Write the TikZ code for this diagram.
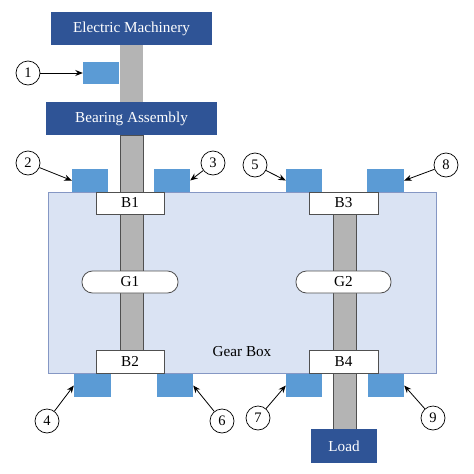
\documentclass[tikz,border=0pt]{standalone}
\usepackage{fontspec}
\setmainfont{Liberation Serif}
\usetikzlibrary{arrows.meta}
\definecolor{darkbox}{HTML}{2F5496}
\definecolor{sensor}{HTML}{5B9BD5}
\definecolor{shaftgray}{HTML}{B4B4B4}
\definecolor{shaftline}{HTML}{505050}
\definecolor{gbfill}{HTML}{DAE3F3}
\definecolor{gbline}{HTML}{8597C4}
\tikzset{
  darkboxnode/.style={fill=darkbox, text=white, inner sep=0pt, font=\fontsize{15.2}{18}\selectfont},
  sensornode/.style={fill=sensor, inner sep=0pt, minimum width=36pt, minimum height=23pt},
  bearnode/.style={fill=white, draw=shaftline, line width=0.8pt, inner sep=0pt, minimum height=22pt, font=\fontsize{15.2}{18}\selectfont},
  gearnode/.style={fill=white, draw=shaftline, line width=0.8pt, inner sep=0pt, rounded corners=10.5pt, minimum height=22pt, minimum width=96pt, font=\fontsize{15.2}{18}\selectfont},
  numnode/.style={circle, draw=black, fill=white, line width=0.7pt, inner sep=0pt, minimum size=24pt, font=\fontsize{14.5}{17}\selectfont},
  shaft/.style={fill=shaftgray, draw=shaftline, line width=0.8pt},
  pointer/.style={draw=black, line width=0.8pt, -{Stealth[length=7.5pt,width=6pt]}},
}
\begin{document}
\begin{tikzpicture}[x=1pt,y=-1pt]
\useasboundingbox (0,0) rectangle (474,474);
% gear box
\node[fill=gbfill, draw=gbline, line width=1pt, inner sep=0pt, minimum width=388pt, minimum height=181pt] (gb) at (242,282.5) {};
\node[font=\fontsize{15.2}{18}\selectfont, inner sep=0pt] (gbl) at (242,352) {Gear Box};
% shafts
\fill[shaftgray] (120,45) rectangle (143,102);
\draw[shaft] (120,135) rectangle (143,350);
\draw[shaft] (333,214) rectangle (356,429);
% top boxes
\node[darkboxnode, minimum width=161pt, minimum height=33pt] (em) at (131.5,28.5) {Electric Machinery};
\node[darkboxnode, minimum width=171pt, minimum height=33pt] (ba) at (131.5,118.5) {Bearing Assembly};
\node[darkboxnode, minimum width=66pt, minimum height=34pt] (load) at (344,446) {Load};
% bearings and gears
\node[bearnode, minimum width=68pt] (b1) at (130,203) {B1};
\node[bearnode, minimum width=69pt] (b3) at (343.5,203) {B3};
\node[bearnode, minimum width=68pt, minimum height=23pt] (b2) at (130,361.5) {B2};
\node[bearnode, minimum width=69pt, minimum height=23pt] (b4) at (343.5,361.5) {B4};
\node[gearnode] (g1) at (130,282) {G1};
\node[gearnode, minimum width=95pt] (g2) at (343.5,282) {G2};
% sensors
\node[sensornode, minimum height=22pt] (s1) at (101,73) {};
\node[sensornode] (s2) at (90,180.5) {};
\node[sensornode] (s3) at (172,180.5) {};
\node[sensornode] (s5) at (304,180.5) {};
\node[sensornode, minimum width=37pt] (s8) at (385.5,180.5) {};
\node[sensornode, minimum width=37pt] (s4) at (92.5,385.5) {};
\node[sensornode] (s6) at (175,385.5) {};
\node[sensornode] (s7) at (304,385.5) {};
\node[sensornode] (s9) at (386,385.5) {};
% numbered circles
\node[numnode] (n1) at (28,73) {1};
\node[numnode] (n2) at (28,163) {2};
\node[numnode] (n3) at (213,163) {3};
\node[numnode] (n5) at (255,165) {5};
\node[numnode] (n8) at (446,165) {8};
\node[numnode] (n4) at (47,421) {4};
\node[numnode] (n6) at (222,421) {6};
\node[numnode] (n7) at (258,418) {7};
\node[numnode] (n9) at (433,418) {9};
% pointers
\draw[pointer] (n1) -- (s1.west);
\draw[pointer] (n2) -- (s2.west);
\draw[pointer] (n3) -- (s3.east);
\draw[pointer] (n5) -- (s5.west);
\draw[pointer] (n8) -- (s8.east);
\draw[pointer] (n4) -- (s4.west);
\draw[pointer] (n6) -- (s6.east);
\draw[pointer] (n7) -- (s7.west);
\draw[pointer] (n9) -- (s9.east);
\end{tikzpicture}
\end{document}
